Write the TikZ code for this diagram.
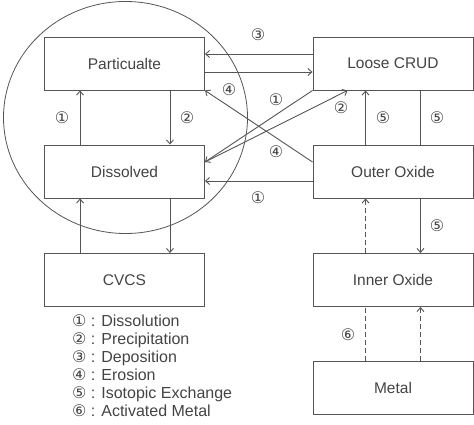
\documentclass[tikz,border=0pt]{standalone}
\usepackage{fontspec}
\setmainfont{Liberation Sans}
\newfontfamily\circfont{DejaVu Sans}
\usepackage{tikz}
\usetikzlibrary{calc}
\usetikzlibrary{positioning}
\usetikzlibrary{arrows.meta}
\definecolor{lineGray}{HTML}{555555}
\definecolor{textGray}{HTML}{444444}
\newcommand{\circNum}[1]{{\circfont\fontsize{16}{18}\selectfont #1}}
\tikzset{
  boxNode/.style={%
    rectangle, draw=lineGray, line width=0.9pt, fill=white,
    minimum width=160pt, minimum height=53pt, inner sep=0pt,
    text=textGray, font=\fontsize{15.5}{17}\selectfont,
  },
  numNode/.style={%
    text=textGray, inner sep=0pt, font=\circfont\fontsize{16}{18}\selectfont,
  },
  flow/.style={%
    draw=lineGray, line width=0.9pt, -{Straight Barb[length=4pt,width=7pt]},
  },
  plainFlow/.style={draw=lineGray, line width=0.9pt},
  dashFlow/.style={draw=lineGray, line width=0.9pt, dash pattern=on 5pt off 3pt},
}

\begin{document}
\begin{tikzpicture}[x=1pt,y=-1pt]

          \useasboundingbox (0,0) rectangle (474,425);

          \node[boxNode] (nodeParticulate) at (124.5,63.5) {Particualte} ;
          \node[boxNode] (nodeDissolved) at (124.5,171.5) {Dissolved} ;
          \node[boxNode] (nodeCVCS) at (124.5,280) {CVCS} ;
          \node[boxNode] (nodeLooseCrud) at (393,63.5) {Loose CRUD} ;
          \node[boxNode] (nodeOuterOxide) at (393,171.5) {Outer Oxide} ;
          \node[boxNode] (nodeInnerOxide) at (393,280) {Inner Oxide} ;
          \node[boxNode] (nodeMetal) at (393,388) {Metal} ;

          % the circle round the coolant side
          \draw[lineGray, line width=0.8pt]
            ($(nodeParticulate)!0.5!(nodeDissolved)+(1,0)$) ellipse [x radius=122, y radius=116];

          % left column
          \draw[flow] ([xshift=36pt]nodeDissolved.north west) -- ([xshift=36pt]nodeParticulate.south west);
          \draw[flow] ([xshift=-35pt]nodeParticulate.south east) -- ([xshift=-35pt]nodeDissolved.north east);
          \draw[flow] ([xshift=36pt]nodeCVCS.north west) -- ([xshift=36pt]nodeDissolved.south west);
          \draw[flow] ([xshift=-35pt]nodeDissolved.south east) -- ([xshift=-35pt]nodeCVCS.north east);

          % between the columns
          \draw[flow] ([yshift=9.5pt]nodeLooseCrud.west) -- ([yshift=9.5pt]nodeParticulate.east);
          \draw[flow] ([yshift=-8.5pt]nodeParticulate.east) -- ([yshift=-8.5pt]nodeLooseCrud.west);
          \draw[flow] ([yshift=9.5pt]nodeOuterOxide.west) -- (nodeParticulate.south east);
          \draw[flow] (nodeLooseCrud.south west) -- ([yshift=9.5pt]nodeDissolved.east);
          \draw[flow] ([yshift=9.5pt]nodeDissolved.east) -- ([xshift=35pt]nodeLooseCrud.south west);
          \draw[flow] ([yshift=-9.5pt]nodeOuterOxide.west) -- ([yshift=-9.5pt]nodeDissolved.east);

          % right column
          \draw[flow] ([xshift=53pt]nodeOuterOxide.north west) -- ([xshift=53pt]nodeLooseCrud.south west);
          \draw[plainFlow] ([xshift=-53pt]nodeLooseCrud.south east) -- ([xshift=-53pt]nodeOuterOxide.north east);
          \draw[flow] ([xshift=-53pt]nodeOuterOxide.south east) -- ([xshift=-53pt]nodeInnerOxide.north east);
          \draw[dashFlow,-{Straight Barb[length=4pt,width=7pt]}] ([xshift=53pt]nodeInnerOxide.north west) -- ([xshift=53pt]nodeOuterOxide.south west);
          \draw[dashFlow] ([xshift=53pt]nodeMetal.north west) -- ([xshift=53pt]nodeInnerOxide.south west);
          \draw[dashFlow,-{Straight Barb[length=4pt,width=7pt]}] ([xshift=-53pt]nodeMetal.north east) -- ([xshift=-53pt]nodeInnerOxide.south east);

          % process numbers
          \node[numNode] (numA) at (62,118) {①} ;
          \node[numNode] (numB) at (187,118) {②} ;
          \node[numNode] (numC) at (258,35) {③} ;
          \node[numNode] (numD) at (229,90) {④} ;
          \node[numNode] (numE) at (276,100) {①} ;
          \node[numNode] (numF) at (341,108) {②} ;
          \node[numNode] (numG) at (276,152) {④} ;
          \node[numNode] (numH) at (258,198) {①} ;
          \node[numNode] (numI) at (383,118) {⑤} ;
          \node[numNode] (numJ) at (437,118) {⑤} ;
          \node[numNode] (numK) at (437,226) {⑤} ;
          \node[numNode] (numL) at (348,335) {⑥} ;

          % legend
          \node[anchor=north west, inner sep=0pt, text=textGray, align=left,
                font=\fontsize{16}{18}\selectfont] (legend) at (72,314)
            {\circNum{①} : Dissolution\\
             \circNum{②} : Precipitation\\
             \circNum{③} : Deposition\\
             \circNum{④} : Erosion\\
             \circNum{⑤} : Isotopic Exchange\\
             \circNum{⑥} : Activated Metal} ;

        \end{tikzpicture}
\end{document}
